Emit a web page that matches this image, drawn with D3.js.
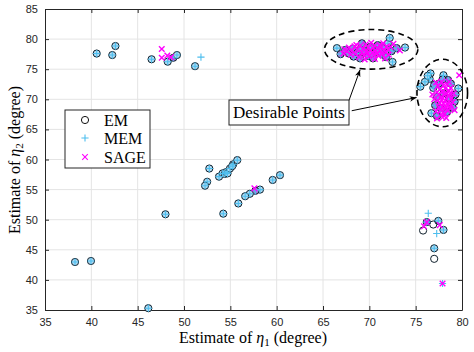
<!doctype html>
<html lang="en">
<head>
<meta charset="utf-8">
<title>Estimates of eta1 / eta2</title>
<style>
  body { margin: 0; background: #fff; }
  .tick text { font-family: "Liberation Sans", Helvetica, Arial, sans-serif; font-size: 11px; fill: #262626; }
  .lbl { font-family: "Liberation Serif", "Times New Roman", serif; fill: #000; }
</style>
</head>
<body>
<svg id="chart" width="474" height="352" xmlns="http://www.w3.org/2000/svg"></svg>
<script src="https://cdn.jsdelivr.net/npm/d3@7"></script>
<script>
// axis ticks
var xTicks = [35, 40, 45, 50, 55, 60, 65, 70, 75, 80];
var yTicks = [35, 40, 45, 50, 55, 60, 65, 70, 75, 80, 85];

// points where EM and MEM gave the same estimate [eta1, eta2]
var commonPts = [
  [40.58,77.6],[42.26,77.35],[42.6,78.85],[46.5,76.65],[48.24,76.25],[48.85,76.9],[49.24,77.35],[51.19,75.5],
  [52.73,58.5],[52.5,56.3],[52.27,55.65],[53.78,57.15],[54.17,57.7],[54.4,57.6],[54.53,57.9],[54.7,57.7],
  [54.96,58.5],[55.3,59.2],[55.75,59.9],[55.2,58.9],
  [59.57,56.6],[60.36,57.4],[58.2,55.0],[57.7,54.8],[57.1,54.3],[56.6,53.9],[55.86,52.7],
  [48.0,50.9],[54.24,51.0],[46.15,35.3],[38.24,42.97],[39.96,43.14],
  [76.2,49.6],[77.44,49.8],[78.0,48.3],[77.0,45.25],
  // cluster near (70, 78)
  [66.5,78.5],[66.9,77.5],[67.4,78.2],[67.8,77.6],[68.2,78.4],[68.3,77.1],[68.7,77.7],[69.0,76.8],
  [69.2,79.3],[69.5,78.0],[69.9,77.2],[70.1,78.7],[70.4,76.8],[70.7,77.9],[70.9,79.0],[71.3,77.6],
  [71.5,78.5],[71.8,77.0],[72.0,79.3],[72.2,80.2],[72.4,78.0],[72.5,76.2],[72.95,78.5],[73.85,78.6],
  [70.2,77.6],[69.0,78.3],[71.0,78.2],
  // cluster near (78, 70)
  [76.6,74.3],[76.5,73.4],[76.0,72.9],[75.5,72.1],[78.0,74.0],[78.5,73.2],[79.6,71.8],[76.9,71.9],
  [76.7,67.7],[77.3,67.2],[78.4,67.9],[77.5,72.6],[79.2,69.6],[79.0,68.6],[77.3,70.4],[78.8,72.6],
  [77.9,73.3],[76.3,73.9],[77.1,69.0],[78.0,71.0],[78.6,70.2],[77.7,68.5],[79.3,70.8],[77.0,72.4]
];
var emOnly = [[75.8,48.2],[76.9,49.2],[77.0,43.5]];
var memOnly = [[51.83,77.0],[76.36,51.06],[77.27,47.7],[77.9,39.4]];

var sagePts = [
  [47.6,78.35],[47.6,76.9],[48.2,77.25],[48.6,77.0],[57.6,55.2],[76.2,49.6],[75.9,48.9],[77.6,49.1],[77.9,39.4],
  [67.3,78.3],[67.6,77.9],[67.8,78.6],[68.0,77.4],[68.1,78.0],[68.4,78.8],[68.5,77.5],[68.7,78.3],
  [68.9,77.0],[69.0,78.9],[69.2,77.8],[69.3,78.4],[69.4,77.3],[69.6,79.1],[69.7,78.0],[69.8,77.6],
  [69.9,78.6],[70.0,77.1],[70.1,78.2],[70.2,79.4],[70.3,77.8],[70.4,78.5],[70.5,77.4],[70.6,78.9],
  [70.7,78.1],[70.8,77.6],[70.9,78.4],[71.0,77.2],[71.1,79.0],[71.2,78.0],[71.3,78.6],[71.4,77.5],
  [71.5,79.3],[71.6,78.2],[71.8,77.8],[71.9,78.8],[72.0,78.3],[72.1,77.4],[72.3,78.7],[68.6,79.0],
  [69.5,76.6],[70.6,76.7],[71.7,76.8],[67.2,77.6],[72.6,79.2],[73.3,78.1],
  [77.2,72.8],[77.4,72.2],[77.6,71.6],[77.8,72.9],[78.0,72.3],[78.2,71.8],[78.4,72.5],[78.6,71.4],
  [78.8,71.9],[77.3,71.2],[77.5,70.8],[77.7,70.3],[77.9,71.3],[78.1,70.7],[78.3,71.1],[78.5,70.5],
  [78.7,70.9],[78.9,70.2],[79.1,71.0],[77.4,69.8],[77.6,69.4],[77.8,69.9],[78.0,69.3],[78.2,69.8],
  [78.4,69.2],[78.6,69.6],[78.8,69.0],[79.0,69.5],[77.5,68.7],[77.7,68.2],[77.9,68.8],[78.1,68.3],
  [78.3,68.7],[78.5,68.1],[78.7,68.5],[77.8,67.5],[78.1,67.6],[78.3,66.9],[77.3,66.8],[77.9,67.0],
  [79.7,74.0],[77.0,70.0],[79.2,68.2],[77.2,68.0],[78.6,72.9],[76.8,70.8]
];

var emPts = commonPts.concat(emOnly);
var memPts = commonPts.concat(memOnly);

// annotation ellipses: [cx, cy, rx, ry] in data units
var ellipses = [[70.2,78.3,5.04,3.29],[77.87,71.05,2.73,5.6]];
// arrows: [fromX, fromY, toX, toY] in data units
var arrows = [[67.8,69.8,69.0,74.9],[68.1,68.1,75.1,70.3]];

var svg = d3.select("#chart");
var x = d3.scaleLinear().domain([35, 80]).range([45, 462]);
var y = d3.scaleLinear().domain([35, 85]).range([310, 9]);

var memColor = "#4dbeee", sageColor = "#ff00ff";

// grid
svg.append("g").selectAll("line").data(xTicks.slice(1, -1)).enter().append("line")
   .attr("x1", d => x(d)).attr("x2", d => x(d)).attr("y1", y(35)).attr("y2", y(85))
   .attr("stroke", "#e4e4e4").attr("stroke-width", 1);
svg.append("g").selectAll("line").data(yTicks.slice(1, -1)).enter().append("line")
   .attr("y1", d => y(d)).attr("y2", d => y(d)).attr("x1", x(35)).attr("x2", x(80))
   .attr("stroke", "#e4e4e4").attr("stroke-width", 1);

// axes (ticks inward, box on)
function styleAxis(g) {
  g.select(".domain").attr("stroke", "#262626");
  g.selectAll(".tick line").attr("stroke", "#262626");
}
svg.append("g").attr("transform", "translate(0," + y(35) + ")")
   .call(d3.axisBottom(x).tickValues(xTicks).tickSizeInner(-4).tickSizeOuter(0).tickPadding(8))
   .call(styleAxis);
svg.append("g").attr("transform", "translate(0," + y(85) + ")")
   .call(d3.axisTop(x).tickValues(xTicks).tickSizeInner(-4).tickSizeOuter(0).tickFormat(""))
   .call(styleAxis);
svg.append("g").attr("transform", "translate(" + x(35) + ",0)")
   .call(d3.axisLeft(y).tickValues(yTicks).tickSizeInner(-4).tickSizeOuter(0).tickPadding(7))
   .call(styleAxis);
svg.append("g").attr("transform", "translate(" + x(80) + ",0)")
   .call(d3.axisRight(y).tickValues(yTicks).tickSizeInner(-4).tickSizeOuter(0).tickFormat(""))
   .call(styleAxis);

function near(p, list, tol) {
  return list.some(q => Math.abs(q[0] - p[0]) < tol && Math.abs(q[1] - p[1]) < tol);
}

// EM circles
svg.append("g").selectAll("circle").data(emPts).enter().append("circle")
   .attr("cx", d => x(d[0])).attr("cy", d => y(d[1])).attr("r", 3.6)
   .attr("fill", function(d) {
     if (!near(d, memPts, 0.05)) return "none";
     return near(d, sagePts, 0.45) ? "#9c80dc" : "#b2dcf4";
   })
   .attr("stroke", "#10202c").attr("stroke-width", 1);

// MEM plus
var plusPath = "M-3.6,0H3.6M0,-3.6V3.6";
svg.append("g").selectAll("path").data(memPts).enter().append("path")
   .attr("transform", d => "translate(" + x(d[0]) + "," + y(d[1]) + ")")
   .attr("d", plusPath).attr("stroke", memColor).attr("stroke-width", 1.1).attr("fill", "none");

// SAGE x
var crossPath = "M-2.8,-2.8L2.8,2.8M-2.8,2.8L2.8,-2.8";
svg.append("g").selectAll("path").data(sagePts).enter().append("path")
   .attr("transform", d => "translate(" + x(d[0]) + "," + y(d[1]) + ")")
   .attr("d", crossPath).attr("stroke", sageColor).attr("stroke-width", 1.4).attr("fill", "none");

// dashed ellipses
svg.append("g").selectAll("ellipse").data(ellipses).enter().append("ellipse")
   .attr("cx", d => x(d[0])).attr("cy", d => y(d[1]))
   .attr("rx", d => x(d[0] + d[2]) - x(d[0])).attr("ry", d => y(d[1] - d[3]) - y(d[1]))
   .attr("fill", "none").attr("stroke", "#000").attr("stroke-width", 1.6)
   .attr("stroke-dasharray", "6,4");

// arrows
svg.append("defs").append("marker").attr("id", "head")
   .attr("viewBox", "0 0 10 10").attr("refX", 10).attr("refY", 5)
   .attr("markerWidth", 7).attr("markerHeight", 7).attr("orient", "auto")
   .append("path").attr("d", "M0,1L10,5L0,9L3,5Z").attr("fill", "#000");
svg.append("g").selectAll("line").data(arrows).enter().append("line")
   .attr("x1", d => x(d[0])).attr("y1", d => y(d[1]))
   .attr("x2", d => x(d[2])).attr("y2", d => y(d[3]))
   .attr("stroke", "#000").attr("stroke-width", 1).attr("marker-end", "url(#head)");

// text box
svg.append("rect").attr("x", 229).attr("y", 100).attr("width", 120).attr("height", 25)
   .attr("fill", "#fff").attr("stroke", "#222").attr("stroke-width", 1);
svg.append("text").attr("class", "lbl").attr("x", 289).attr("y", 118)
   .attr("text-anchor", "middle").style("font-size", "17px").text("Desirable Points");

// legend
var leg = svg.append("g");
leg.append("rect").attr("x", 65).attr("y", 110).attr("width", 85).attr("height", 58)
   .attr("fill", "#fff").attr("stroke", "#262626").attr("stroke-width", 1);
var legRows = [["EM", 120], ["MEM", 138], ["SAGE", 157]];
leg.append("circle").attr("cx", 85).attr("cy", 120).attr("r", 3.6)
   .attr("fill", "none").attr("stroke", "#111").attr("stroke-width", 1);
leg.append("path").attr("transform", "translate(85,138)").attr("d", plusPath)
   .attr("stroke", memColor).attr("stroke-width", 1.1);
leg.append("path").attr("transform", "translate(85,157)").attr("d", crossPath)
   .attr("stroke", sageColor).attr("stroke-width", 1.1);
leg.selectAll("text").data(legRows).enter().append("text").attr("class", "lbl")
   .attr("x", 104).attr("y", d => d[1] + 5.5).style("font-size", "16px").text(d => d[0]);

// axis labels
var xl = svg.append("text").attr("class", "lbl").attr("x", 253).attr("y", 343)
   .attr("text-anchor", "middle").style("font-size", "16px");
xl.append("tspan").text("Estimate of ");
xl.append("tspan").style("font-style", "italic").text("η");
xl.append("tspan").attr("dy", 3).style("font-size", "11px").text("1");
xl.append("tspan").attr("dy", -3).text(" (degree)");

var yl = svg.append("text").attr("class", "lbl")
   .attr("transform", "translate(20,160) rotate(-90)")
   .attr("text-anchor", "middle").style("font-size", "16px");
yl.append("tspan").text("Estimate of ");
yl.append("tspan").style("font-style", "italic").text("η");
yl.append("tspan").attr("dy", 3).style("font-size", "11px").text("2");
yl.append("tspan").attr("dy", -3).text(" (degree)");
</script>
</body>
</html>
